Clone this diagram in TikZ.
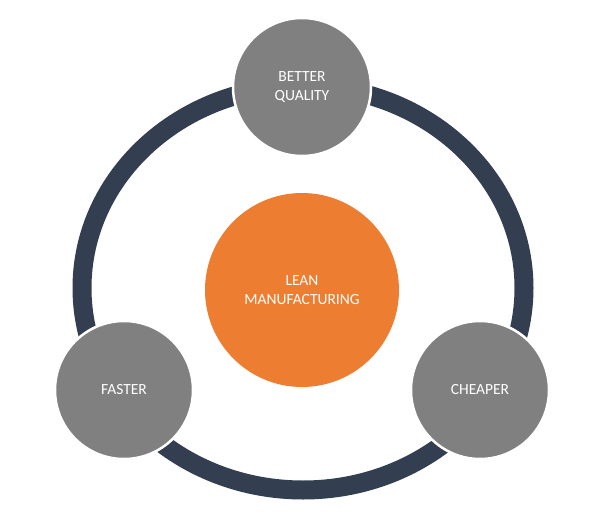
\documentclass[tikz,border=0pt]{standalone}
\usepackage{fontspec}
\setmainfont{Carlito}
\usetikzlibrary{positioning}
\definecolor{ringblue}{HTML}{333F50}
\definecolor{leanorange}{HTML}{ED7D31}
\definecolor{goalgray}{HTML}{808080}
\tikzset{
  font={\fontsize{15.5pt}{18.5pt}\selectfont},
  goal/.style={circle, fill=goalgray, draw=white, line width=2.5pt,
    minimum size=138pt, text=white, align=center, inner sep=0pt},
  core/.style={circle, fill=leanorange, minimum size=194pt,
    text=white, align=center, inner sep=0pt}
}
\begin{document}
\begin{tikzpicture}[x=1pt, y=-1pt]
  \useasboundingbox (0,0) rectangle (610,516);
  \coordinate (hub) at (303,288);
  \draw[ringblue, line width=19pt] (hub) ellipse [x radius=221, y radius=202];

  \node[core] (lean) at (302,290) {LEAN\\MANUFACTURING};
  \node[goal] (quality) at (302,87) {BETTER\\QUALITY};
  \node[goal] (faster) at (124,390) {FASTER};
  \node[goal] (cheaper) at (480,390) {CHEAPER};
\end{tikzpicture}
\end{document}
